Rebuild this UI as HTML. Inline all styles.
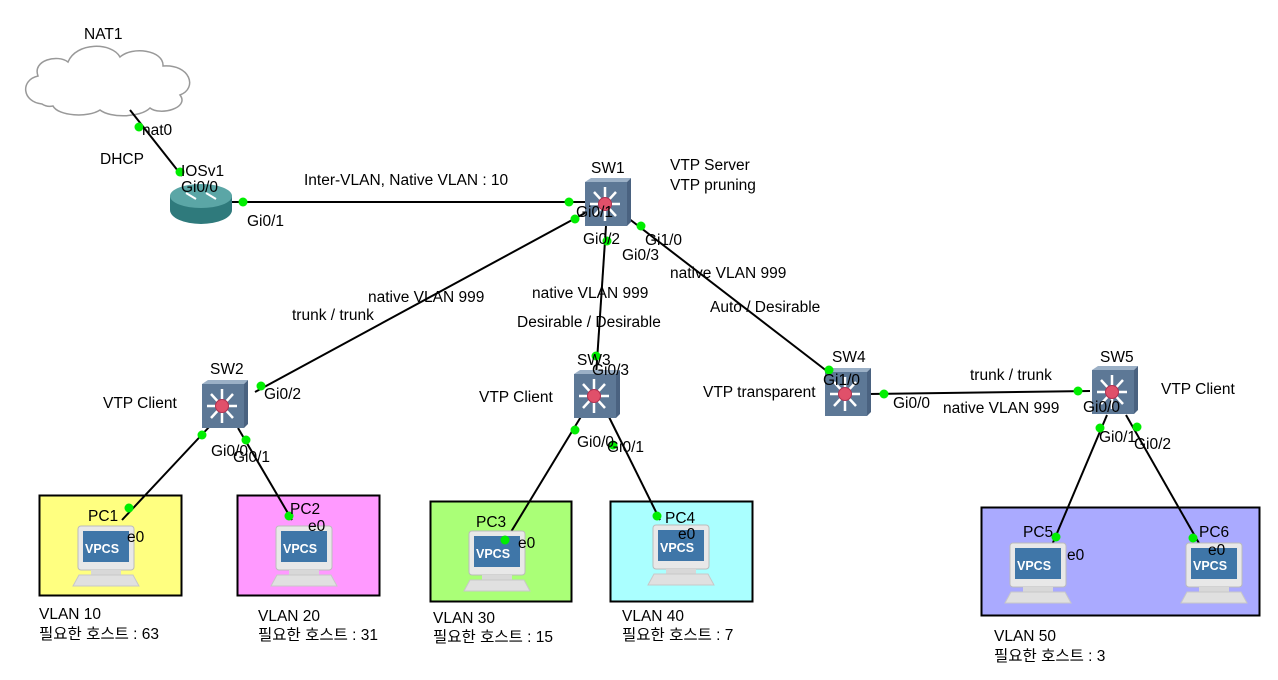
<!DOCTYPE html>
<html><head><meta charset="utf-8"><style>
html,body{margin:0;padding:0;background:#fff;}
svg{display:block;font-family:"Liberation Sans","Noto Sans CJK KR",sans-serif;}
text{font-size:15.5px;fill:#000;}
.v{font-size:12.5px;font-weight:bold;fill:#fff;}
</style></head><body>
<svg width="1278" height="680" viewBox="0 0 1278 680" xmlns="http://www.w3.org/2000/svg">
<defs>
<g id="sw">
 <rect x="-20" y="-22" width="42" height="44" fill="#5d7896"/>
 <polygon points="-20,-22 -14,-26 26,-26 22,-22" fill="#9bb0c6"/>
 <polygon points="22,-22 26,-26 26,18 22,22" fill="#4a6280"/>
 <g stroke="#fff" stroke-width="2.5">
  <line x1="-15" y1="0" x2="15" y2="0"/><line x1="0" y1="-17" x2="0" y2="17"/>
  <line x1="-11" y1="-12" x2="11" y2="12"/><line x1="-11" y1="12" x2="11" y2="-12"/>
 </g>
 <circle r="6.5" fill="#e0506a" stroke="#b03050"/>
</g>
<g id="pc">
 <rect x="3" y="0" width="56" height="44" rx="3" fill="#e8e8e8" stroke="#bbb"/>
 <rect x="8" y="5" width="46" height="31" fill="#3f76a8"/>
 <rect x="16" y="44" width="30" height="5" fill="#d8d8d8"/>
 <polygon points="4,49 58,49 64,60 -2,60" fill="#e0e0e0" stroke="#c8c8c8"/>
</g>
</defs>

<rect x="39.5" y="495.5" width="142" height="100" fill="#ffff80" stroke="#000" stroke-width="2"/>
<rect x="237.5" y="495.5" width="142" height="100" fill="#ff99ff" stroke="#000" stroke-width="2"/>
<rect x="430.5" y="501.5" width="141" height="100" fill="#aaff77" stroke="#000" stroke-width="2"/>
<rect x="610.5" y="501.5" width="142" height="100" fill="#aaffff" stroke="#000" stroke-width="2"/>
<rect x="981.5" y="507.5" width="278" height="108" fill="#aaaaff" stroke="#000" stroke-width="2"/>

<path d="M42,104 C22,102 20,80 38,76 C32,60 58,54 68,62 C76,42 112,42 120,57 C132,46 164,50 163,66 C190,64 198,88 180,95 C190,108 160,116 150,108 C140,118 110,118 100,110 C88,118 58,116 53,106 C48,107 45,106 42,104 Z" fill="#fff" stroke="#999" stroke-width="1.5"/>

<g stroke="#000" stroke-width="2" fill="none">
 <line x1="130" y1="110" x2="182" y2="176"/>
 <line x1="232" y1="202" x2="585" y2="202"/>
 <line x1="585" y1="213" x2="255" y2="392"/>
 <line x1="606" y1="226" x2="596" y2="376"/>
 <line x1="628" y1="218" x2="832" y2="375"/>
 <line x1="868" y1="394" x2="1090" y2="391"/>
 <line x1="210" y1="426" x2="122" y2="520"/>
 <line x1="238" y1="428" x2="292" y2="520"/>
 <line x1="582" y1="415" x2="500" y2="550"/>
 <line x1="608" y1="415" x2="660" y2="520"/>
 <line x1="1107" y1="415" x2="1052" y2="545"/>
 <line x1="1126" y1="415" x2="1200" y2="545"/>
</g>

<ellipse cx="201" cy="210" rx="31" ry="14" fill="#2f7a7c"/>
<rect x="170" y="196" width="62" height="14" fill="#2f7a7c"/>
<ellipse cx="201" cy="196" rx="31" ry="12" fill="#5ba6a6"/>
<g stroke="#fff" stroke-width="2"><line x1="186" y1="193" x2="196" y2="199"/><line x1="206" y1="193" x2="216" y2="199"/></g>
<use href="#sw" x="605" y="204"/>
<use href="#sw" x="222" y="406"/>
<use href="#sw" x="594" y="396"/>
<use href="#sw" x="845" y="394"/>
<use href="#sw" x="1112" y="392"/>

<use href="#pc" x="75" y="526"/><text class="v" x="85" y="553">VPCS</text>
<use href="#pc" x="273" y="526"/><text class="v" x="283" y="553">VPCS</text>
<use href="#pc" x="466" y="531"/><text class="v" x="476" y="558">VPCS</text>
<use href="#pc" x="650" y="525"/><text class="v" x="660" y="552">VPCS</text>
<use href="#pc" x="1007" y="543"/><text class="v" x="1017" y="570">VPCS</text>
<use href="#pc" x="1183" y="543"/><text class="v" x="1193" y="570">VPCS</text>

<g fill="#00ee00">
 <circle cx="139" cy="127" r="4.5"/><circle cx="180" cy="172" r="4.5"/>
 <circle cx="243" cy="202" r="4.5"/><circle cx="569" cy="202" r="4.5"/>
 <circle cx="575" cy="219" r="4.5"/><circle cx="261" cy="386" r="4.5"/>
 <circle cx="607" cy="241" r="4.5"/><circle cx="596" cy="356" r="4.5"/>
 <circle cx="641" cy="226" r="4.5"/><circle cx="829" cy="370" r="4.5"/>
 <circle cx="884" cy="394" r="4.5"/><circle cx="1078" cy="391" r="4.5"/>
 <circle cx="202" cy="435" r="4.5"/><circle cx="129" cy="508" r="4.5"/>
 <circle cx="246" cy="440" r="4.5"/><circle cx="289" cy="516" r="4.5"/>
 <circle cx="575" cy="430" r="4.5"/><circle cx="505" cy="540" r="4.5"/>
 <circle cx="613" cy="445" r="4.5"/><circle cx="657" cy="516" r="4.5"/>
 <circle cx="1100" cy="428" r="4.5"/><circle cx="1056" cy="537" r="4.5"/>
 <circle cx="1137" cy="427" r="4.5"/><circle cx="1193" cy="538" r="4.5"/>
</g>

<text x="84" y="39">NAT1</text>
<text x="142" y="135">nat0</text>
<text x="100" y="164">DHCP</text>
<text x="181" y="176">IOSv1</text>
<text x="181" y="192">Gi0/0</text>
<text x="247" y="226">Gi0/1</text>
<text x="304" y="185">Inter-VLAN, Native VLAN : 10</text>
<text x="591" y="173">SW1</text>
<text x="670" y="170">VTP Server</text>
<text x="670" y="190">VTP pruning</text>
<text x="576" y="217">Gi0/1</text>
<text x="583" y="244">Gi0/2</text>
<text x="645" y="245">Gi1/0</text>
<text x="622" y="260">Gi0/3</text>
<text x="670" y="278">native VLAN 999</text>
<text x="710" y="312">Auto / Desirable</text>
<text x="532" y="298">native VLAN 999</text>
<text x="517" y="327">Desirable / Desirable</text>
<text x="368" y="302">native VLAN 999</text>
<text x="292" y="320">trunk / trunk</text>
<text x="210" y="374">SW2</text>
<text x="103" y="408">VTP Client</text>
<text x="264" y="399">Gi0/2</text>
<text x="211" y="456">Gi0/0</text>
<text x="233" y="462">Gi0/1</text>
<text x="577" y="365">SW3</text>
<text x="592" y="375">Gi0/3</text>
<text x="479" y="402">VTP Client</text>
<text x="577" y="447">Gi0/0</text>
<text x="607" y="452">Gi0/1</text>
<text x="832" y="362">SW4</text>
<text x="703" y="397">VTP transparent</text>
<text x="823" y="385">Gi1/0</text>
<text x="893" y="408">Gi0/0</text>
<text x="970" y="380">trunk / trunk</text>
<text x="943" y="413">native VLAN 999</text>
<text x="1100" y="362">SW5</text>
<text x="1161" y="394">VTP Client</text>
<text x="1083" y="412">Gi0/0</text>
<text x="1099" y="442">Gi0/1</text>
<text x="1134" y="449">Gi0/2</text>
<text x="88" y="521">PC1</text><text x="127" y="542">e0</text>
<text x="290" y="514">PC2</text><text x="308" y="531">e0</text>
<text x="476" y="527">PC3</text><text x="518" y="548">e0</text>
<text x="665" y="523">PC4</text><text x="678" y="539">e0</text>
<text x="1023" y="537">PC5</text><text x="1067" y="560">e0</text>
<text x="1199" y="537">PC6</text><text x="1208" y="555">e0</text>
<text x="39" y="619">VLAN 10</text><text x="39" y="639">필요한 호스트 : 63</text>
<text x="258" y="621">VLAN 20</text><text x="258" y="640">필요한 호스트 : 31</text>
<text x="433" y="623">VLAN 30</text><text x="433" y="642">필요한 호스트 : 15</text>
<text x="622" y="621">VLAN 40</text><text x="622" y="640">필요한 호스트 : 7</text>
<text x="994" y="641">VLAN 50</text><text x="994" y="661">필요한 호스트 : 3</text>
</svg>
</body></html>
